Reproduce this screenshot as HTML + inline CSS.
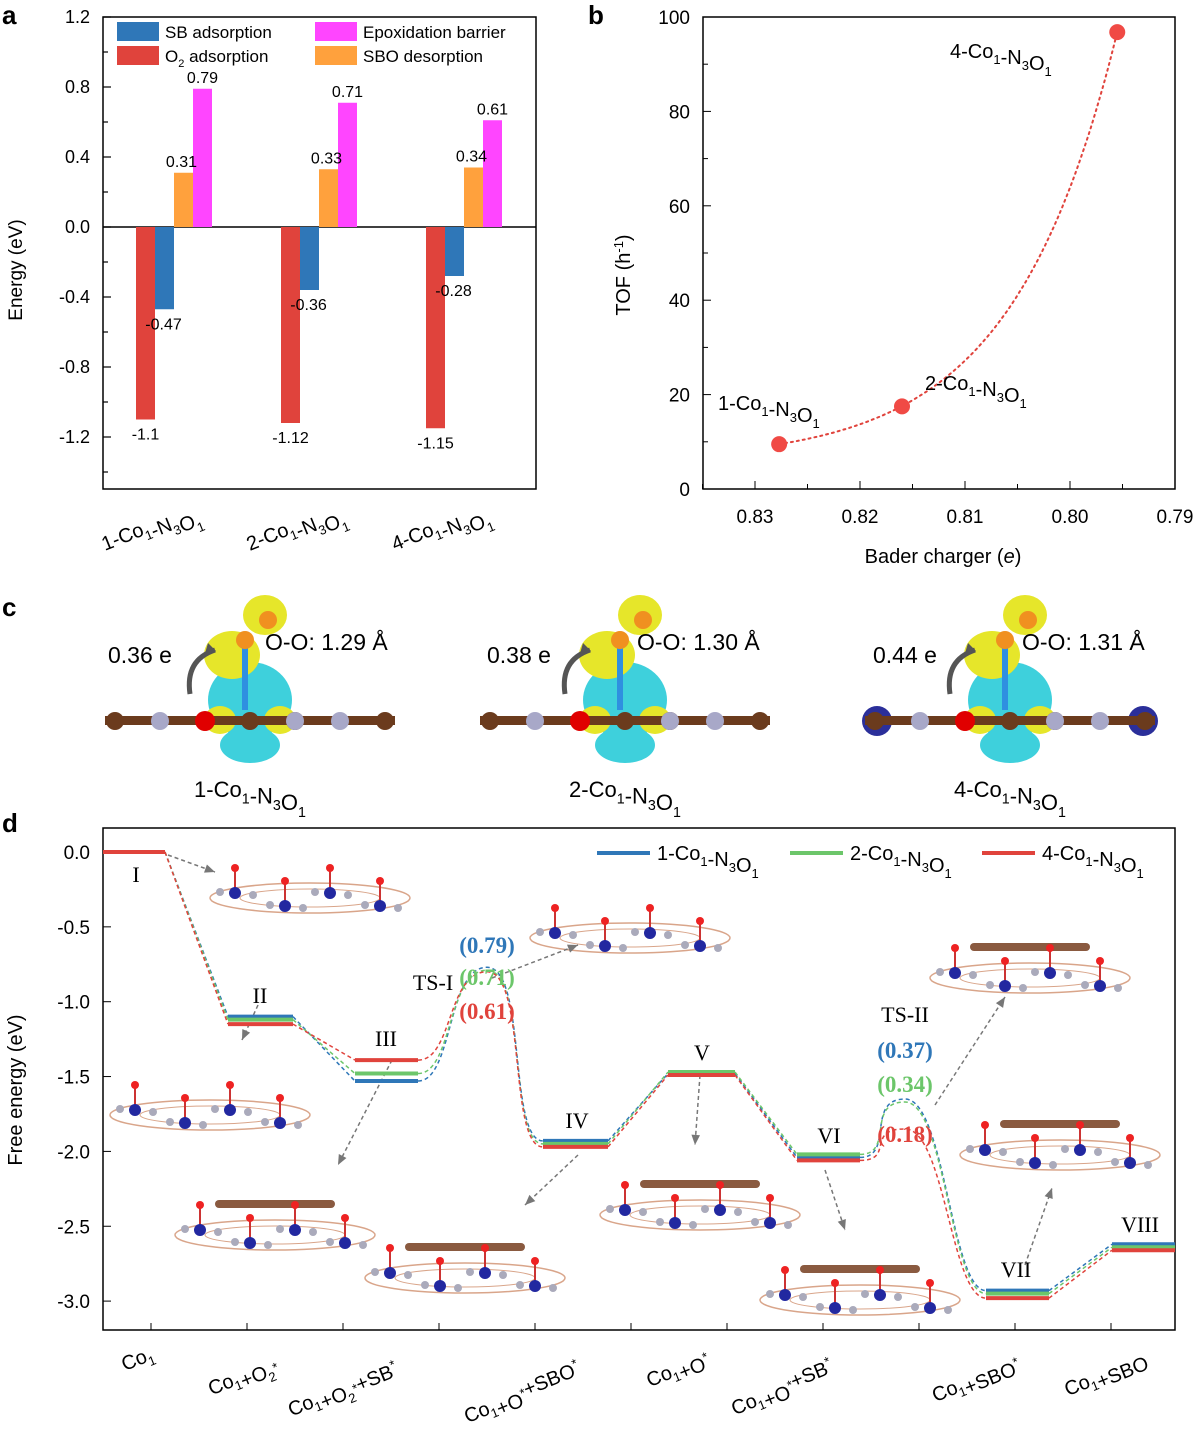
<!DOCTYPE html>
<html><head><meta charset="utf-8"><style>
html,body{margin:0;padding:0;background:#fff;}
svg{display:block;font-family:"Liberation Sans",sans-serif;}
</style></head><body>
<svg id="fig" width="1200" height="1432" viewBox="0 0 1200 1432" xmlns="http://www.w3.org/2000/svg">
<g id="pa"></g>
<g id="pb"></g>
<g id="pc"></g>
<g id="pd"></g>
<text x="2" y="24" font-size="26" font-weight="bold">a</text>
<text x="588" y="24" font-size="26" font-weight="bold">b</text>
<text x="2" y="616" font-size="26" font-weight="bold">c</text>
<text x="2" y="832" font-size="26" font-weight="bold">d</text>
</svg>
<script>
// ---------- Panel a data ----------
const aCategories = ["1","2","4"];
const aO2Ads = [-1.1, -1.12, -1.15];
const aSbAds = [-0.47, -0.36, -0.28];
const aSbo = [0.31, 0.33, 0.34];
const aEpox = [0.79, 0.71, 0.61];
const aO2Labels = ["-1.1","-1.12","-1.15"];
const aSbLabels = ["-0.47","-0.36","-0.28"];
const aSboLabels = ["0.31","0.33","0.34"];
const aEpoxLabels = ["0.79","0.71","0.61"];
const aTicks = [1.2,0.8,0.4,0.0,-0.4,-0.8,-1.2];
// ---------- Panel b data ----------
const bCharge = [0.8277, 0.816, 0.7955];
const bTof = [9.5, 17.5, 96.8];
const bXTicks = [0.83,0.82,0.81,0.80,0.79];
const bYTicks = [0,20,40,60,80,100];
// ---------- Panel d data ----------
const dStates = ["I","II","III","IV","V","VI","VII","VIII"];
const dBlue = [0, -1.10, -1.53, -1.93, -1.48, -2.04, -2.93, -2.62];
const dGreen = [0, -1.12, -1.48, -1.95, -1.47, -2.02, -2.95, -2.64];
const dRed = [0, -1.15, -1.39, -1.97, -1.49, -2.06, -2.98, -2.66];
const dTS1 = [-0.77, -0.79, -0.80];
const dTS2 = [-1.65, -1.67, -1.85];
const dTS1Labels = ["(0.79)","(0.71)","(0.61)"];
const dTS2Labels = ["(0.37)","(0.34)","(0.18)"];
const dYTicks = [0,-0.5,-1,-1.5,-2,-2.5,-3];

const NS="http://www.w3.org/2000/svg";
function mk(parent,tag,attrs,text){const e=document.createElementNS(NS,tag);for(const k in attrs)e.setAttribute(k,attrs[k]);if(text!==undefined)e.textContent=text;parent.appendChild(e);return e;}
function coLabel(parent,x,y,num,size,rot,anchor){
  const t=mk(parent,"text",{x:x,y:y,"font-size":size,"text-anchor":anchor||"middle",transform:rot?`rotate(${rot} ${x} ${y})`:""});
  const parts=[[num+"-Co",0],["1",1],["-N",0],["3",1],["O",0],["1",1]];
  parts.forEach(p=>{const ts=mk(t,"tspan",{"font-size":p[1]?size*0.65:size,dy:p[1]?size*0.3:0});ts.textContent=p[0];if(p[1]){const r=mk(t,"tspan",{dy:-size*0.3});r.textContent="";}});
  return t;
}
const C={blue:"#2f77b8",red:"#e0433c",mag:"#ff45ff",org:"#ffa13d",green:"#6cc66a"};

// ---------- Panel a ----------
(function(){
const g=document.getElementById("pa");
const X0=103,X1=536,Y0=17,Y1=489;
const y=v=>227-v*175;
mk(g,"rect",{x:X0,y:Y0,width:X1-X0,height:Y1-Y0,fill:"none",stroke:"#000","stroke-width":1.5});
mk(g,"line",{x1:X0,x2:X1,y1:y(0),y2:y(0),stroke:"#000","stroke-width":1.5});
for(let v=1.2;v>=-1.41;v-=0.2){const yy=y(v);mk(g,"line",{x1:X0,x2:X0+(Math.abs(Math.round(v*10))%4==0?8:5),y1:yy,y2:yy,stroke:"#000","stroke-width":1.2});}
aTicks.forEach(v=>{const t=mk(g,"text",{x:90,y:y(v)+6,"font-size":18,"text-anchor":"end"},v.toFixed(1));});
const yt=mk(g,"text",{x:22,y:270,"font-size":19,"text-anchor":"middle",transform:"rotate(-90 22 270)"},"Energy (eV)");

const bw=19;
const labels=[];
aCategories.forEach((c,i)=>{
  const cx=174+i*145;
  const series=[[aO2Ads,C.red,-2,aO2Labels],[aSbAds,C.blue,-1,aSbLabels],[aSbo,C.org,0,aSboLabels],[aEpox,C.mag,1,aEpoxLabels]];
  series.forEach(s=>{
    const v=s[0][i],x=cx+s[2]*bw,top=Math.min(y(v),y(0)),h=Math.abs(y(v)-y(0));
    const r=mk(g,"rect",{x:x,y:top,width:bw,height:h,fill:s[1]});
    
    const ly=v<0?y(v)+20:y(v)-6;
    labels.push([x+bw/2+(s[2]==-1?-1:0)+(s[2]==0?-2:0),ly,s[3][i]]);
  });
  const lb=coLabel(g,cx-22,532,c,20,-22,"middle");
  
});
labels.forEach(l=>mk(g,"text",{x:l[0],y:l[1],"font-size":16,"text-anchor":"middle"},l[2]));
const leg=[[117,22,C.blue,"SB adsorption"],[315,22,C.mag,"Epoxidation barrier"],[315,46,C.org,"SBO desorption"]];
leg.forEach(l=>{const gg=mk(g,"g",{});
  mk(gg,"rect",{x:l[0],y:l[1],width:42,height:19,fill:l[2]});mk(gg,"text",{x:l[0]+48,y:l[1]+16,"font-size":17},l[3]);});
const g2=mk(g,"g",{});
mk(g2,"rect",{x:117,y:46,width:42,height:19,fill:C.red});
const t=mk(g2,"text",{x:165,y:62,"font-size":17});
mk(t,"tspan",{},"O");mk(t,"tspan",{"font-size":11,dy:5},"2");mk(t,"tspan",{dy:-5}," adsorption");
})();

// ---------- Panel b ----------
(function(){
const g=document.getElementById("pb");
const X0=703,X1=1175,Y0=17,Y1=489;
const x=v=>755+(0.83-v)*10500;
const y=v=>489-v*4.72;
mk(g,"rect",{x:X0,y:Y0,width:X1-X0,height:Y1-Y0,fill:"none",stroke:"#000","stroke-width":1.5});
bYTicks.forEach(v=>{mk(g,"line",{x1:X0,x2:X0+8,y1:y(v),y2:y(v),stroke:"#000"});mk(g,"line",{x1:X0,x2:X0+5,y1:y(v+10),y2:y(v+10),stroke:"#000"});
  const t=mk(g,"text",{x:690,y:y(v)+7,"font-size":19,"text-anchor":"end"},String(v));});
bXTicks.forEach(v=>{mk(g,"line",{x1:x(v),x2:x(v),y1:Y1,y2:Y1-8,stroke:"#000"});mk(g,"line",{x1:x(v)-52.5,x2:x(v)-52.5,y1:Y1,y2:Y1-5,stroke:"#000"});
  const t=mk(g,"text",{x:x(v),y:523,"font-size":19,"text-anchor":"middle"},v.toFixed(2));});
const xt=mk(g,"text",{x:943,y:563,"font-size":20,"text-anchor":"middle"});
mk(xt,"tspan",{},"Bader charger (");mk(xt,"tspan",{"font-style":"italic"},"e");mk(xt,"tspan",{},")");
const yt=mk(g,"text",{x:630,y:275,"font-size":20,"text-anchor":"middle",transform:"rotate(-90 630 275)"});
mk(yt,"tspan",{},"TOF (h");mk(yt,"tspan",{"font-size":13,dy:-7},"-1");mk(yt,"tspan",{dy:7},")");
const u1=bCharge[0]-bCharge[2];
const k=100;
const A=(bTof[2]-bTof[0])/(Math.exp(k*u1)-1), B=bTof[0]-A;
let d="";for(let s=0;s<=80;s++){const v=bCharge[0]+(bCharge[2]-bCharge[0])*s/80;const val=A*Math.exp(k*(bCharge[0]-v))+B;d+=(s?"L":"M")+x(v).toFixed(1)+","+y(val).toFixed(1);}
const fit=mk(g,"path",{d:d,fill:"none",stroke:C.red,"stroke-width":2,"stroke-dasharray":"2,4","stroke-linecap":"round"});

bCharge.forEach((v,i)=>{const c=mk(g,"circle",{cx:x(v),cy:y(bTof[i]),r:8,fill:"#f04a45"});});
coLabel(g,718,410,"1",20,0,"start");coLabel(g,925,390,"2",20,0,"start");coLabel(g,950,58,"4",20,0,"start");
})();

// ---------- Panel c ----------
(function(){
const g=document.getElementById("pc");
const mols=[[250,"0.36 e","O-O: 1.29 Å",108,265,"1",false],[625,"0.38 e","O-O: 1.30 Å",487,637,"2",false],[1010,"0.44 e","O-O: 1.31 Å",873,1022,"4",true]];
mols.forEach(m=>{
  const cx=m[0],gg=mk(g,"g",{});
  mk(gg,"ellipse",{cx:cx,cy:700,rx:42,ry:38,fill:"#3ed0dc"});
  mk(gg,"ellipse",{cx:cx,cy:745,rx:30,ry:18,fill:"#3ed0dc"});
  mk(gg,"ellipse",{cx:cx-18,cy:655,rx:28,ry:24,fill:"#e6e62a"});
  mk(gg,"ellipse",{cx:cx+15,cy:615,rx:22,ry:20,fill:"#e6e62a"});
  mk(gg,"ellipse",{cx:cx-30,cy:720,rx:16,ry:14,fill:"#e6e62a"});
  mk(gg,"ellipse",{cx:cx+30,cy:720,rx:16,ry:14,fill:"#e6e62a"});
  mk(gg,"line",{x1:cx-5,y1:640,x2:cx-5,y2:710,stroke:"#2f8fe0","stroke-width":6});
  mk(gg,"circle",{cx:cx-5,cy:640,r:9,fill:"#f09020"});mk(gg,"circle",{cx:cx+18,cy:620,r:9,fill:"#f09020"});
  if(m[6]){mk(gg,"circle",{cx:cx-133,cy:721,r:15,fill:"#2b2f9a"});mk(gg,"circle",{cx:cx+133,cy:721,r:15,fill:"#2b2f9a"});}
  mk(gg,"rect",{x:cx-145,y:716,width:290,height:9,fill:"#6b3b1d"});
  [-135,-45,0,45,135].forEach(o=>mk(gg,"circle",{cx:cx+o,cy:721,r:9,fill:"#6b3b1d"}));
  [-90,45,90].forEach(o=>mk(gg,"circle",{cx:cx+o,cy:721,r:9,fill:"#a8a8c8"}));
  mk(gg,"circle",{cx:cx-45,cy:721,r:10,fill:"#e00000"});
  mk(gg,"path",{d:`M${cx-60},${694} Q${cx-65},${660} ${cx-35},${650}`,fill:"none",stroke:"#555","stroke-width":5});
  mk(gg,"path",{d:`M${cx-42},${643} l-4,14 l12,-6 z`,fill:"#555"});
  mk(g,"text",{x:m[3],y:663,"font-size":23},m[1]);
  mk(g,"text",{x:m[4],y:650,"font-size":23},m[2]);
  coLabel(g,cx,797,m[5],22,0,"middle");
});
})();

// ---------- Panel d ----------
(function(){
const g=document.getElementById("pd");
const X0=103,X1=1175,Y0=828,Y1=1330;
const y=v=>852-v*149.7;
const lv=[[103,165],[228,293],[355,418],[543,608],[668,735],[797,860],[986,1049],[1112,1175]];
mk(g,"rect",{x:X0,y:Y0,width:X1-X0,height:Y1-Y0,fill:"none",stroke:"#000","stroke-width":1.5});
dYTicks.forEach(v=>{mk(g,"line",{x1:X0,x2:X0+8,y1:y(v),y2:y(v),stroke:"#000"});
  const t=mk(g,"text",{x:90,y:y(v)+7,"font-size":19,"text-anchor":"end"},v.toFixed(1));});
for(let i=0;i<=10;i++){mk(g,"line",{x1:X0+(i+0.5)*96,x2:X0+(i+0.5)*96,y1:Y1,y2:Y1-7,stroke:"#000"});}
const yt=mk(g,"text",{x:22,y:1090,"font-size":20,"text-anchor":"middle",transform:"rotate(-90 22 1090)"},"Free energy (eV)");

const structs=[[310,888],[210,1105],[275,1225],[465,1268],[630,928],[700,1205],[860,1290],[1030,968],[1060,1145]];
structs.forEach((s,i)=>{const gg=mk(g,"g",{});
  mk(gg,"ellipse",{cx:s[0],cy:s[1]+10,rx:100,ry:15,fill:"none",stroke:"#d9a58a","stroke-width":1.5});
  mk(gg,"ellipse",{cx:s[0],cy:s[1]+10,rx:70,ry:9,fill:"none",stroke:"#d9a58a","stroke-width":1});
  if(i>=2&&i!=4) mk(gg,"rect",{x:s[0]-60,y:s[1]-25,width:120,height:8,rx:4,fill:"#8a5a40"});
  [-75,-25,20,70].forEach((o,k)=>{const yy=s[1]+(k%2?18:5);mk(gg,"line",{x1:s[0]+o,y1:yy,x2:s[0]+o,y2:yy-25,stroke:"#c33","stroke-width":2});
    mk(gg,"circle",{cx:s[0]+o,cy:yy-25,r:4,fill:"#e22"});mk(gg,"circle",{cx:s[0]+o,cy:yy,r:6,fill:"#2228a0"});
    mk(gg,"circle",{cx:s[0]+o+18,cy:yy+2,r:4,fill:"#aab"});mk(gg,"circle",{cx:s[0]+o-15,cy:yy-1,r:4,fill:"#aab"});});
});
const arrows=[[168,855,215,872],[258,1005,242,1040],[392,1060,338,1165],[492,978,578,945],[578,1155,525,1205],[700,1075,695,1145],[825,1170,845,1230],[935,1105,1005,997],[1025,1265,1052,1188]];
arrows.forEach(a=>{const gg=mk(g,"g",{});
  mk(gg,"line",{x1:a[0],y1:a[1],x2:a[2],y2:a[3],stroke:"#777","stroke-width":1.5,"stroke-dasharray":"4,3"});
  const ang=Math.atan2(a[3]-a[1],a[2]-a[0]);const p=(d,o)=>[a[2]-d*Math.cos(ang+o),a[3]-d*Math.sin(ang+o)];
  const q1=p(11,0.4),q2=p(11,-0.4);mk(gg,"path",{d:`M${a[2]},${a[3]}L${q1}L${q2}Z`,fill:"#777"});});
const series=[[dBlue,C.blue,dTS1[0],dTS2[0]],[dGreen,C.green,dTS1[1],dTS2[1]],[dRed,C.red,dTS1[2],dTS2[2]]];
series.forEach((s,si)=>{
  const vals=s[0],col=s[1];
  for(let i=0;i<vals.length-1;i++){
    const xa=lv[i][1],xb=lv[i+1][0],ya=y(vals[i]),yb=y(vals[i+1]);
    let d;
    if(i==2||i==5){const ts=i==2?s[2]:s[3];const xm=i==2?487:905;const yt=y(ts);
      d=`M${xa},${ya} C${xa+35},${ya} ${xm-40},${yt} ${xm},${yt} C${xm+40},${yt} ${xb-35},${yb} ${xb},${yb}`;}
    else d=`M${xa},${ya} L${xb},${yb}`;
    const p=mk(g,"path",{d:d,fill:"none",stroke:col,"stroke-width":1.5,"stroke-dasharray":"4,3"});
    
  }
  vals.forEach((v,i)=>{const l=mk(g,"line",{x1:lv[i][0],x2:lv[i][1],y1:y(v),y2:y(v),stroke:col,"stroke-width":4});
    });
});
const rlab=[[136,882],[260,1003],[386,1046],[577,1128],[702,1060],[829,1143],[1016,1277],[1140,1232]];
dStates.forEach((s,i)=>mk(g,"text",{x:rlab[i][0],y:rlab[i][1],"font-size":22,"font-family":"Liberation Serif, serif","text-anchor":"middle"},s));
mk(g,"text",{x:433,y:990,"font-size":22,"font-family":"Liberation Serif, serif","text-anchor":"middle"},"TS-I");
mk(g,"text",{x:905,y:1022,"font-size":22,"font-family":"Liberation Serif, serif","text-anchor":"middle"},"TS-II");
const tc=[C.blue,C.green,C.red];
dTS1Labels.forEach((t,i)=>mk(g,"text",{x:487,y:953+i*32+(i==2?2:0),"font-size":23,"font-weight":"bold","font-family":"Liberation Serif, serif","text-anchor":"middle",fill:tc[i]},t));
dTS2Labels.forEach((t,i)=>mk(g,"text",{x:905,y:1058+i*34+(i==2?16:0),"font-size":23,"font-weight":"bold","font-family":"Liberation Serif, serif","text-anchor":"middle",fill:tc[i]},t));
[[597,C.blue,"1"],[790,C.green,"2"],[982,C.red,"4"]].forEach(l=>{const gg=mk(g,"g",{});
  mk(gg,"line",{x1:l[0],x2:l[0]+53,y1:853,y2:853,stroke:l[1],"stroke-width":4});coLabel(gg,l[0]+60,860,l[2],20,0,"start");});
const xl=[[140,1365,"Co<sub>1</sub>"],[245,1382,"Co<sub>1</sub>+O<sub>2</sub><sup>*</sup>"],[345,1395,"Co<sub>1</sub>+O<sub>2</sub><sup>*</sup>+SB<sup>*</sup>"],[525,1400,"Co<sub>1</sub>+O<sup>*</sup>+SBO<sup>*</sup>"],[680,1375,"Co<sub>1</sub>+O<sup>*</sup>"],[785,1395,"Co<sub>1</sub>+O<sup>*</sup>+SB<sup>*</sup>"],[978,1385,"Co<sub>1</sub>+SBO<sup>*</sup>"],[1108,1380,"Co<sub>1</sub>+SBO"]];
xl.forEach(l=>{const t=mk(g,"text",{x:l[0],y:l[1],"font-size":20,"text-anchor":"middle",transform:`rotate(-22 ${l[0]} ${l[1]})`});
  
  l[2].split(/(<sub>.*?<\/sub>|<sup>.*?<\/sup>)/).forEach(p=>{if(!p)return;
    if(p.startsWith("<sub>")){mk(t,"tspan",{"font-size":13,dy:5},p.slice(5,-6));mk(t,"tspan",{dy:-5},"");}
    else if(p.startsWith("<sup>")){mk(t,"tspan",{"font-size":13,dy:-8},p.slice(5,-6));mk(t,"tspan",{dy:8},"");}
    else mk(t,"tspan",{},p);});
});
})();
</script>
</body></html>
